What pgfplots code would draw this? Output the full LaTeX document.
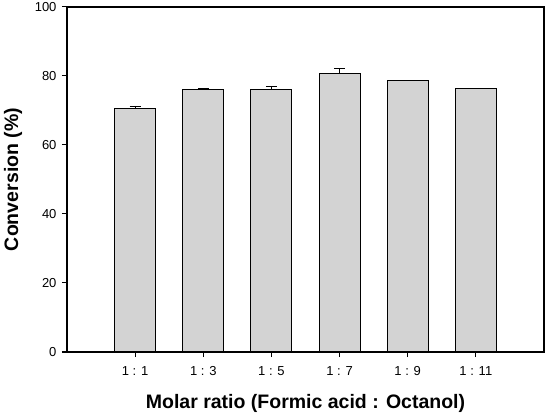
\documentclass[border=0pt]{standalone}
\usepackage{fontspec}
\setmainfont{Liberation Sans}
\usepackage{pgfplots}
\pgfplotsset{compat=1.18}
\definecolor{barfill}{RGB}{211,211,211}
\begin{document}
\begin{tikzpicture}
\path[use as bounding box] (-67pt,-66pt) rectangle (483pt,352pt);
\begin{axis}[
  at={(0pt,0pt)}, anchor=south west,
  scale only axis, width=477pt, height=345pt,
  xmin=0, xmax=7, ymin=0, ymax=100,
  xtick={1,2,3,4,5,6},
  xticklabels={1 : 1,1 : 3,1 : 5,1 : 7,1 : 9,1 : 11},
  ytick={0,20,40,60,80,100},
  tick align=outside, major tick length=5pt,
  xtick pos=bottom, ytick pos=left,
  axis line style={line width=1.2pt},
  tick style={line width=1pt, black},
  /pgf/number format/assume math mode=true,
  tick label style={font=\fontsize{13}{15}\selectfont},
  xticklabel style={yshift=-6pt},
  yticklabel style={xshift=-2pt},
  xlabel={Molar ratio (Formic acid : Octanol)},
  ylabel={Conversion (\%)},
  label style={font=\bfseries\fontsize{19.5}{22}\selectfont},
  xlabel style={at={(axis description cs:0.5,-0.148)}, anchor=center},
  ylabel style={at={(axis description cs:-0.1132,0.5)}, anchor=center},
]
\addplot[ybar, bar width=41pt, fill=barfill, draw=black, line width=1pt,
  error bars/.cd, y dir=plus, y explicit,
  error mark=-, error mark options={rotate=90, mark size=5.5pt, line width=1pt, black},
  error bar style={line width=1pt, black}]
  coordinates {
  (1,70.5) +- (0,0.8)
  (2,76.1) +- (0,0.2)
  (3,76.0) +- (0,1.1)
  (4,80.7) +- (0,1.4)
  (5,78.6) +- (0,0.0)
  (6,76.3) +- (0,0.1)
  };
\end{axis}
\end{tikzpicture}
\end{document}
